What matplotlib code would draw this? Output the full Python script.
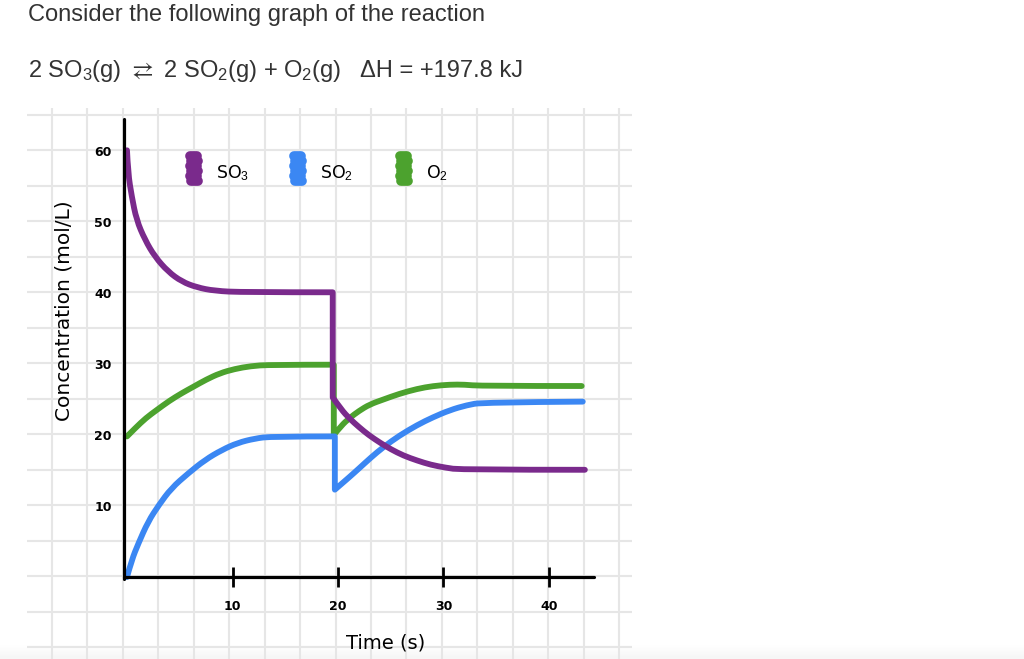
import numpy as np
import matplotlib
matplotlib.use("Agg")
import matplotlib.pyplot as plt
from matplotlib.path import Path
from matplotlib.patches import PathPatch

# ---- data ----------------------------------------------------------------
t_so3 = [0, 0.1, 0.45, 0.9, 1.7, 2.65, 3.9, 5.2, 6.6, 8.3, 11.0, 19.5,
         19.5, 20.3, 21.1, 22.0, 22.9, 24.0, 25.0, 26.2, 27.5, 28.8, 30.2, 31.6, 43.4]
c_so3 = [60.1, 56.9, 53.6, 50.3, 47.5, 45.1, 43.0, 41.6, 40.8, 40.3, 40.1, 40.1,
         25.3, 23.6, 22.3, 21.1, 20.0, 18.9, 18.0, 17.1, 16.4, 15.8, 15.4, 15.1, 15.1]

t_so2 = [0, 0.45, 1.07, 2.0, 3.0, 4.2, 5.8, 7.4, 9.0, 10.5, 12.1, 13.7, 19.7,
         19.7, 20.4, 21.1, 22.0, 23.1, 24.3, 25.8, 27.5, 29.0, 30.6, 32.2, 33.7, 43.2]
c_so2 = [0, 2.4, 4.7, 7.8, 10.1, 12.5, 14.6, 16.5, 17.9, 18.9, 19.5, 19.8, 19.8,
         12.3, 13.2, 14.1, 15.3, 16.8, 18.3, 19.9, 21.4, 22.5, 23.5, 24.2, 24.6, 24.7]

t_o2 = [0, 0.8, 1.8, 2.8, 4.0, 5.2, 6.3, 7.5, 8.8, 10.2, 11.7, 13.5, 19.6,
        19.6, 20.3, 21.1, 22.0, 23.0, 24.3, 25.8, 27.5, 29.0, 30.6, 32.0, 33.5, 43.1]
c_o2 = [19.8, 21.0, 22.4, 23.5, 24.8, 25.9, 26.8, 27.8, 28.7, 29.3, 29.7, 29.9, 29.9,
        20.0, 21.3, 22.4, 23.4, 24.3, 25.0, 25.8, 26.5, 26.9, 27.1, 27.1, 26.9, 26.9]

y_ticks = [10, 20, 30, 40, 50, 60]
x_ticks = [10, 20, 30, 40]
names = ["SO$_3$", "SO$_2$", "O$_2$"]
colors = ["#7a2a8c", "#3b87f3", "#4ca22e"]


def smooth_path(t, c):
    """Quadratic-bezier path through midpoints; sharp corner where t repeats."""
    pts = np.column_stack([t, c])
    breaks = [0] + [i for i in range(1, len(t)) if t[i] == t[i - 1]] + [len(t)]
    verts, codes = [], []
    for a, b in zip(breaks[:-1], breaks[1:]):
        seg = pts[a:b]
        if not verts:
            verts.append(seg[0]); codes.append(Path.MOVETO)
        else:
            verts.append(seg[0]); codes.append(Path.LINETO)
        for i in range(1, len(seg) - 1):
            mid = (seg[i] + seg[i + 1]) / 2 if i < len(seg) - 2 else seg[i + 1]
            verts += [seg[i], mid]
            codes += [Path.CURVE3, Path.CURVE3]
        if len(seg) == 2:
            verts.append(seg[1]); codes.append(Path.LINETO)
    return Path(verts, codes)


W, H = 1024, 659
fig = plt.figure(figsize=(W / 100, H / 100), dpi=100)

# ---- squared paper behind everything (pixel coords) ----------------------
bg = fig.add_axes([0, 0, 1, 1])
bg.set_xlim(0, W)
bg.set_ylim(H, 0)
bg.axis("off")
gx = 52 + 35.44 * np.arange(17)
gy = 115 + 35.47 * np.arange(16)
bg.vlines(gx, 108, H, color="#e6e6e6", lw=1.5)
bg.hlines(gy, 27, 632, color="#e6e6e6", lw=1.5)
shade = np.linspace(0, 1, 20)[:, None] * np.ones((1, 2))
bg.imshow(shade, extent=(0, W, H, H - 14), cmap="Greys", vmin=0, vmax=12,
          aspect="auto", alpha=0.9, zorder=0)

# ---- header text ---------------------------------------------------------
plt.rcParams["mathtext.fontset"] = "custom"
plt.rcParams["mathtext.rm"] = "Liberation Sans"
plt.rcParams["mathtext.it"] = "Liberation Sans"
head = dict(family=["Liberation Sans", "DejaVu Sans"], fontsize=17,
            color="#333333", va="baseline", ha="left")
fig.text(28 / W, 1 - 21 / H, "Consider the following graph of the reaction", **head)
fig.text(28 / W, 1 - 77 / H,
         r"2 SO$_3$(g) $\rightleftarrows$ 2 SO$_2$(g) + O$_2$(g)", **head)
fig.text(360 / W, 1 - 77 / H, "ΔH = +197.8 kJ", **head)

# ---- main axes: t=0 at x=127px, c=0 at y=577px ---------------------------
px_t, px_c = 10.55, 7.1
x0, y0 = 127, 577
xlim, ylim = (-1, 46), (-1, 66)
left = x0 + xlim[0] * px_t
right = x0 + xlim[1] * px_t
bottom = y0 - ylim[0] * px_c
top = y0 - ylim[1] * px_c
ax = fig.add_axes([left / W, 1 - bottom / H, (right - left) / W, (bottom - top) / H])
ax.set_xlim(*xlim)
ax.set_ylim(*ylim)
ax.patch.set_alpha(0)

for s in ["top", "right"]:
    ax.spines[s].set_visible(False)
ax.spines["left"].set_position(("data", -0.25))
ax.spines["left"].set_bounds(-0.3, 64.5)
ax.spines["bottom"].set_position(("data", 0))
ax.spines["bottom"].set_bounds(-0.3, 44.3)
for s in ["left", "bottom"]:
    ax.spines[s].set_linewidth(2.3)
    ax.spines[s].set_capstyle("round")

tick_font = dict(family="DejaVu Sans", weight="bold", size=9)
ax.set_yticks(y_ticks)
ax.set_yticklabels([str(v) for v in y_ticks], fontdict=tick_font)
ax.set_xticks(x_ticks)
ax.set_xticklabels([str(v) for v in x_ticks], fontdict=tick_font)
ax.tick_params(axis="y", length=0, pad=9)
ax.tick_params(axis="x", direction="inout", length=15, width=2, pad=9)

for t, c, col in [(t_o2, c_o2, colors[2]), (t_so2, c_so2, colors[1]),
                  (t_so3, c_so3, colors[0])]:
    ax.add_patch(PathPatch(smooth_path(t, c), facecolor="none", edgecolor=col,
                           lw=4.2, capstyle="round", joinstyle="round",
                           clip_on=False))

# hand-drawn style legend: a scribbled swatch of stacked short strokes
sw_t = [6.3, 16.2, 26.2]
dx = 3.5 / px_t
for name, col, st in zip(names, colors, sw_t):
    for k in range(6):
        cy = 59.3 - k * 5 / px_c
        shift = (k % 2) * 0.8 / px_t
        ax.plot([st - dx + shift, st + dx + shift], [cy, cy], color=col, lw=7,
                solid_capstyle="round", clip_on=False)
    ax.text(st + 2.1, 56.9, name, fontsize=12.5, family="DejaVu Sans",
            va="center", ha="left")

fig.text(64 / W, 1 - 311 / H, "Concentration (mol/L)", rotation=90,
         ha="center", va="center", fontsize=14.5, family="DejaVu Sans")
fig.text(386 / W, 1 - 643 / H, "Time (s)", ha="center", va="center",
         fontsize=14, family="DejaVu Sans")

fig.savefig("out.png", dpi=100)
